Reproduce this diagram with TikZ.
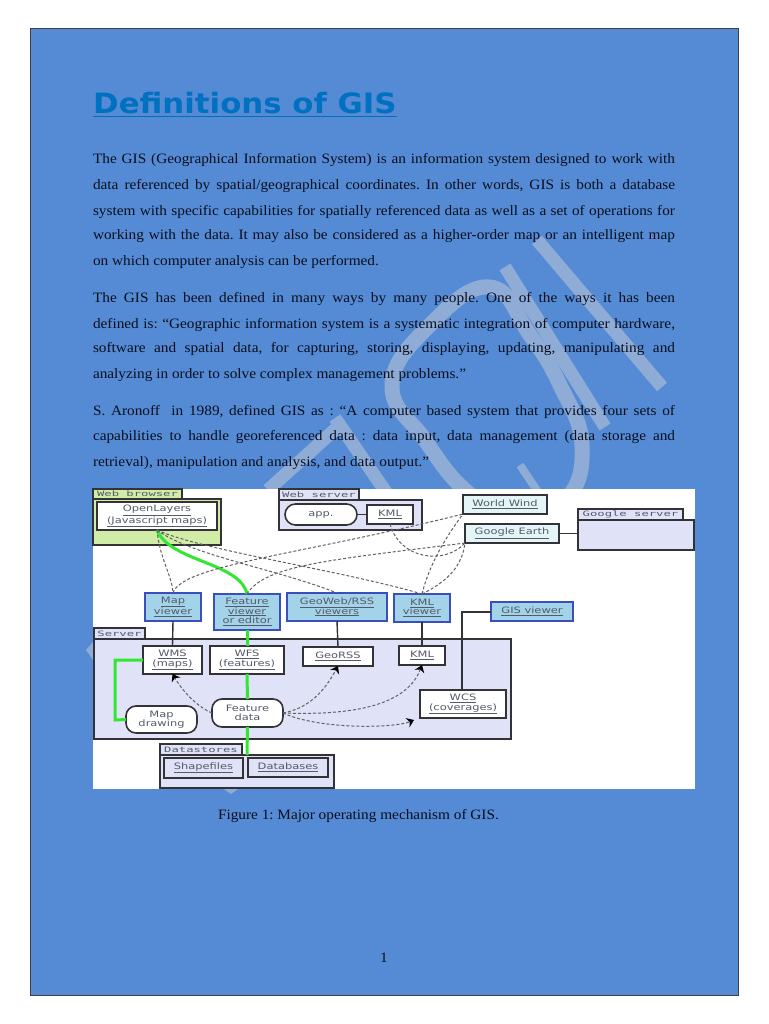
\documentclass[tikz,border=0pt]{standalone}
\usepackage{fontspec}
\setmainfont{Liberation Serif}[FakeStretch=1.07]
\newfontfamily\djf{DejaVu Sans}[FakeStretch=1.3]
\newfontfamily\titlef{DejaVu Sans}[FakeStretch=1.1]
\newfontfamily\monf{DejaVu Sans Mono}[FakeStretch=1.65]
\frenchspacing
\usetikzlibrary{arrows.meta,shapes.misc}
\definecolor{pageblue}{RGB}{85,139,212}
\definecolor{wmark}{RGB}{143,172,214}
\definecolor{bodyink}{RGB}{8,14,30}
\definecolor{titleblue}{RGB}{0,112,192}
\definecolor{lav}{RGB}{224,226,248}
\definecolor{lgreen}{RGB}{208,236,166}
\definecolor{vblue}{RGB}{163,211,232}
\definecolor{vedge}{RGB}{58,78,190}
\definecolor{pale}{RGB}{228,245,248}
\definecolor{edge}{RGB}{50,50,55}
\definecolor{gline}{RGB}{50,230,50}
\definecolor{lab}{RGB}{85,90,105}
\tikzset{
  x=1pt,y=-1pt,
  bodyl/.style={anchor=base west,inner sep=0pt,outer sep=0pt,font=\fontsize{14.3}{16}\selectfont,text=bodyink},
  box/.style={draw=edge,line width=1.6pt,inner sep=0pt,outer sep=0pt,align=center,text=lab,font=\djf\fontsize{8.8}{9.6}\selectfont},
  whitebox/.style={box,fill=white},
  viewer/.style={box,fill=vblue,draw=vedge,line width=1.8pt},
  palebox/.style={box,fill=pale},
  tabbox/.style={box,font=\monf\fontsize{7.4}{9}\selectfont},
  region/.style={box,fill=lav},
  pill/.style={box,fill=white,rounded rectangle},
  softbox/.style={box,fill=white,rounded corners=10pt},
  green/.style={draw=gline,line width=3pt},
  solid link/.style={draw=edge,line width=1.4pt},
  dash link/.style={draw=black!62,line width=1pt,densely dashed},
  flow/.style={dash link,-{Stealth[length=7pt,width=10pt,black]}},
  wm/.style={draw=wmark,line width=13pt}
}
\newcommand{\bx}[7]{\node[#6,minimum width={(#4-#2)*1pt},minimum height={(#5-#3)*1pt}] (#1) at ({(#2+#4)/2},{(#3+#5)/2}) {#7};}
\newcommand{\ul}[1]{\underline{#1}}
\begin{document}
\begin{tikzpicture}
\useasboundingbox (0,0) rectangle (768,1024);
\fill[white] (0,0) rectangle (768,1024);
\draw[fill=pageblue,draw=black!75,line width=.8pt] (30,28) rectangle (738,995);
% watermark
\draw[wm] (537,240) -- (662,387);
\draw[wm] (505,267) -- (605,427);
\draw[wm,line width=15pt] plot[smooth cycle,tension=.75] coordinates {(392,385) (430,325) (490,287) (530,335) (560,385) (582,445) (565,500) (510,515) (465,490) (425,440)};
\draw[wm] (268,490) -- (340,425);
\draw[wm] (335,418) -- (388,495);
\draw[wm,line width=8pt] (520,465) -- (540,495);
\fill[wmark] (86,650) -- (93,642) -- (93,660) -- cycle;
\fill[wmark] (224,789) -- (238,789) -- (231,794) -- cycle;
% title
\node[anchor=base west,inner sep=0pt,font=\titlef\bfseries\fontsize{28}{32}\selectfont,text=titleblue] (title) at (93,114) {\underline{Definitions of GIS}};
% body
\node[bodyl] (l1) at (93,164) {\makebox[582pt][s]{The GIS (Geographical Information System) is an information system designed to work with}};
\node[bodyl] (l2) at (93,190) {\makebox[582pt][s]{data referenced by spatial/geographical coordinates. In other words, GIS is both a database}};
\node[bodyl] (l3) at (93,216) {\makebox[582pt][s]{system with specific capabilities for spatially referenced data as well as a set of operations for}};
\node[bodyl] (l4) at (93,240) {\makebox[582pt][s]{working with the data. It may also be considered as a higher-order map or an intelligent map}};
\node[bodyl] (l5) at (93,265) {on which computer analysis can be performed.};
\node[bodyl] (l6) at (93,302) {\makebox[582pt][s]{The GIS has been defined in many ways by many people. One of the ways it has been}};
\node[bodyl] (l7) at (93,328) {\makebox[582pt][s]{defined is: “Geographic information system is a systematic integration of computer hardware,}};
\node[bodyl] (l8) at (93,352) {\makebox[582pt][s]{software and spatial data, for capturing, storing, displaying, updating, manipulating and}};
\node[bodyl] (l9) at (93,378) {analyzing in order to solve complex management problems.”};
\node[bodyl] (l10) at (93,415) {\makebox[582pt][s]{S. Aronoff\ \ in 1989, defined GIS as : “A computer based system that provides four sets of}};
\node[bodyl] (l11) at (93,440) {\makebox[582pt][s]{capabilities to handle georeferenced data : data input, data management (data storage and}};
\node[bodyl] (l12) at (93,466) {retrieval), manipulation and analysis, and data output.”};
\node[bodyl] (cap) at (218,819) {Figure 1: Major operating mechanism of GIS.};
\node[bodyl,anchor=base] (pg) at (384,962) {1};
% figure ground
\fill[white] (93,489) rectangle (695,789);
% regions
\bx{browser}{93}{499}{221}{545}{region,fill=lgreen}{}
\bx{browsertab}{93}{489}{182}{499}{tabbox,fill=lgreen}{Web browser}
\bx{webserver}{279}{500}{422}{530}{region}{}
\bx{webservertab}{279}{489}{359}{500}{tabbox,fill=lav}{Web server}
\bx{gserver}{578}{520}{694}{550}{region}{}
\bx{gservertab}{578}{509}{683}{520}{tabbox,fill=lav}{Google server}
\bx{server}{94}{639}{511}{739}{region}{}
\bx{servertab}{94}{628}{145}{639}{tabbox,fill=lav}{Server}
\bx{stores}{160}{755}{334}{788}{region}{}
\bx{storestab}{160}{744}{242}{755}{tabbox,fill=lav}{Datastores}
% inner boxes
\bx{ol}{97}{502}{217}{530}{whitebox,line width=2pt}{\ul{OpenLayers}\\\ul{(Javascript maps)}}
\bx{app}{285}{504}{357}{525}{pill}{app.}
\bx{kmlw}{367}{505}{413}{524}{whitebox}{\ul{KML}}
\bx{ww}{463}{495}{547}{514}{palebox}{\ul{World Wind}}
\bx{ge}{465}{524}{559}{543}{palebox}{\ul{Google Earth}}
\bx{mapv}{145}{593}{201}{621}{viewer}{\ul{Map}\\\ul{viewer}}
\bx{featv}{214}{594}{280}{630}{viewer}{\ul{Feature}\\\ul{viewer}\\\ul{or editor}}
\bx{geov}{287}{593}{387}{621}{viewer}{\ul{GeoWeb/RSS}\\\ul{viewers}}
\bx{kmlv}{394}{594}{450}{622}{viewer}{\ul{KML}\\\ul{viewer}}
\bx{gisv}{491}{602}{573}{621}{viewer}{\ul{GIS viewer}}
\bx{wms}{143}{646}{202}{674}{whitebox}{\ul{WMS}\\\ul{(maps)}}
\bx{wfs}{210}{646}{284}{674}{whitebox}{\ul{WFS}\\\ul{(features)}}
\bx{georss}{303}{647}{373}{666}{whitebox}{\ul{GeoRSS}}
\bx{kmls}{399}{646}{445}{665}{whitebox}{\ul{KML}}
\bx{wcs}{420}{690}{506}{718}{whitebox}{\ul{WCS}\\\ul{(coverages)}}
\bx{mapd}{126}{706}{197}{733}{softbox}{Map\\drawing}
\bx{feat}{212}{699}{283}{727}{softbox}{Feature\\data}
\bx{shp}{164}{758}{243}{778}{box,fill=lav,line width=2pt}{\ul{Shapefiles}}
\bx{db}{248}{758}{328}{777}{box,fill=lav}{\ul{Databases}}
% solid links
\draw[solid link] (app.east) -- (kmlw.west);
\draw[solid link] (ge.east) -- (ge.east -| gserver.west);
\draw[solid link] (mapv.south) -- (wms.north);
\draw[solid link] (geov.south) -- (georss.north);
\draw[solid link] (kmlv.south) -- (kmls.north);
\draw[solid link,line width=2pt] (gisv.west) -| (462,690);
% green links
\draw[green] (ol.south) .. controls (170,562) and (240,562) .. (featv.north);
\draw[green] (featv.south) -- (wfs.north);
\draw[green] (wfs.south) -- (feat.north);
\draw[green] (feat.south) -- (stores.north);
\draw[green] (wms.west) -| (115,720) -- (mapd.west);
% dashed links
\draw[dash link] (ol.south) .. controls (160,560) and (172,575) .. (mapv.north);
\draw[dash link] (ol.south) .. controls (190,555) and (280,570) .. (geov.north);
\draw[dash link] (ol.south) .. controls (200,550) and (340,570) .. (kmlv.north);
\draw[dash link] (mapv.north) .. controls (182,565) and (300,555) .. (ww.south west);
\draw[dash link] (featv.north) .. controls (265,565) and (330,560) .. (ge.south west);
\draw[dash link] (kmlv.north) .. controls (428,570) and (440,545) .. (ww.south west);
\draw[dash link] (kmlv.north) .. controls (450,580) and (462,565) .. (ge.south west);
\draw[dash link] (kmlw.south) .. controls (400,560) and (445,565) .. (ge.south west);
% flows
\draw[flow] (feat.west) .. controls (200,708) and (185,695) .. (wms.south);
\draw[flow] (feat.east) .. controls (310,708) and (325,690) .. (georss.south);
\draw[flow] (feat.east) .. controls (340,715) and (405,710) .. (kmls.south);
\draw[flow] (feat.east) .. controls (320,730) and (395,728) .. ([xshift=-6pt,yshift=-2pt]wcs.south west);
\end{tikzpicture}
\end{document}
